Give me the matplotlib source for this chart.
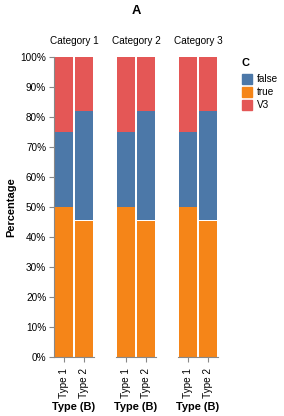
import matplotlib
matplotlib.use("Agg")
import matplotlib.pyplot as plt
from matplotlib.ticker import PercentFormatter
from matplotlib.patches import Rectangle

plt.rcParams['font.family'] = ['Liberation Sans', 'DejaVu Sans']

# data (percent of each bar)
categories = ["Category 1", "Category 2", "Category 3"]
types = ["Type 1", "Type 2"]
pct_true = [50.0, 45.5]
pct_false = [25.0, 36.4]
pct_v3 = [25.0, 18.1]
legend_labels = ["false", "true", "V3"]

c_false = "#4c78a8"
c_true = "#f58518"
c_v3 = "#e45756"
axis_grey = "#888888"

W, H = 284, 416
fig = plt.figure(figsize=(W / 100, H / 100), dpi=100)

def px(x0, y0, w, h):
    # pixel box (top-left origin) -> figure fraction
    return [x0 / W, 1 - (y0 + h) / H, w / W, h / H]

fig.text(136 / W, 1 - 11 / H, "A", ha="center", va="center",
         fontsize=9.4, fontweight="bold")

for i, cat in enumerate(categories):
    left = 54 + 62 * i
    ax = fig.add_axes(px(left, 57, 40, 300))
    x = range(len(types))
    ax.bar(x, pct_true, width=0.9, color=c_true)
    ax.bar(x, pct_false, width=0.9, bottom=pct_true, color=c_false)
    bottom2 = [a + b for a, b in zip(pct_true, pct_false)]
    ax.bar(x, pct_v3, width=0.9, bottom=bottom2, color=c_v3)
    ax.set_xlim(-0.5, 1.5)
    ax.set_ylim(0, 100)

    for s in ["top", "right"]:
        ax.spines[s].set_visible(False)
    ax.spines["bottom"].set_color(axis_grey)
    ax.spines["bottom"].set_linewidth(0.8)
    ax.spines["left"].set_color(axis_grey)
    ax.spines["left"].set_linewidth(0.8)

    ax.set_xticks(list(x))
    ax.set_xticklabels(types, rotation=90, fontsize=7.2)
    ax.tick_params(axis="x", length=3.6, width=0.8, color=axis_grey, pad=4)
    ax.set_xlabel("Type (B)", fontsize=7.9, fontweight="bold", labelpad=3)
    ax.set_title(cat, fontsize=7.2, pad=9)

    if i == 0:
        ax.set_yticks(range(0, 101, 10))
        ax.yaxis.set_major_formatter(PercentFormatter(decimals=0))
        ax.tick_params(axis="y", length=3.6, width=0.8, color=axis_grey,
                       labelsize=7.2, pad=2)
        ax.set_ylabel("Percentage", fontsize=7.9, fontweight="bold", labelpad=3)
    else:
        ax.spines["left"].set_visible(False)
        ax.set_yticks([])

# legend
fig.text(242 / W, 1 - 63 / H, "C", ha="left", va="center",
         fontsize=7.9, fontweight="bold")
for j, (lab, col) in enumerate(zip(legend_labels, [c_false, c_true, c_v3])):
    yc = 79 + 13 * j
    fig.patches.append(Rectangle((242 / W, 1 - (yc + 5) / H), 10 / W, 10 / H,
                                 transform=fig.transFigure, color=col))
    fig.text(257 / W, 1 - yc / H, lab, ha="left", va="center", fontsize=7.2)

fig.savefig("out.png", dpi=100)
